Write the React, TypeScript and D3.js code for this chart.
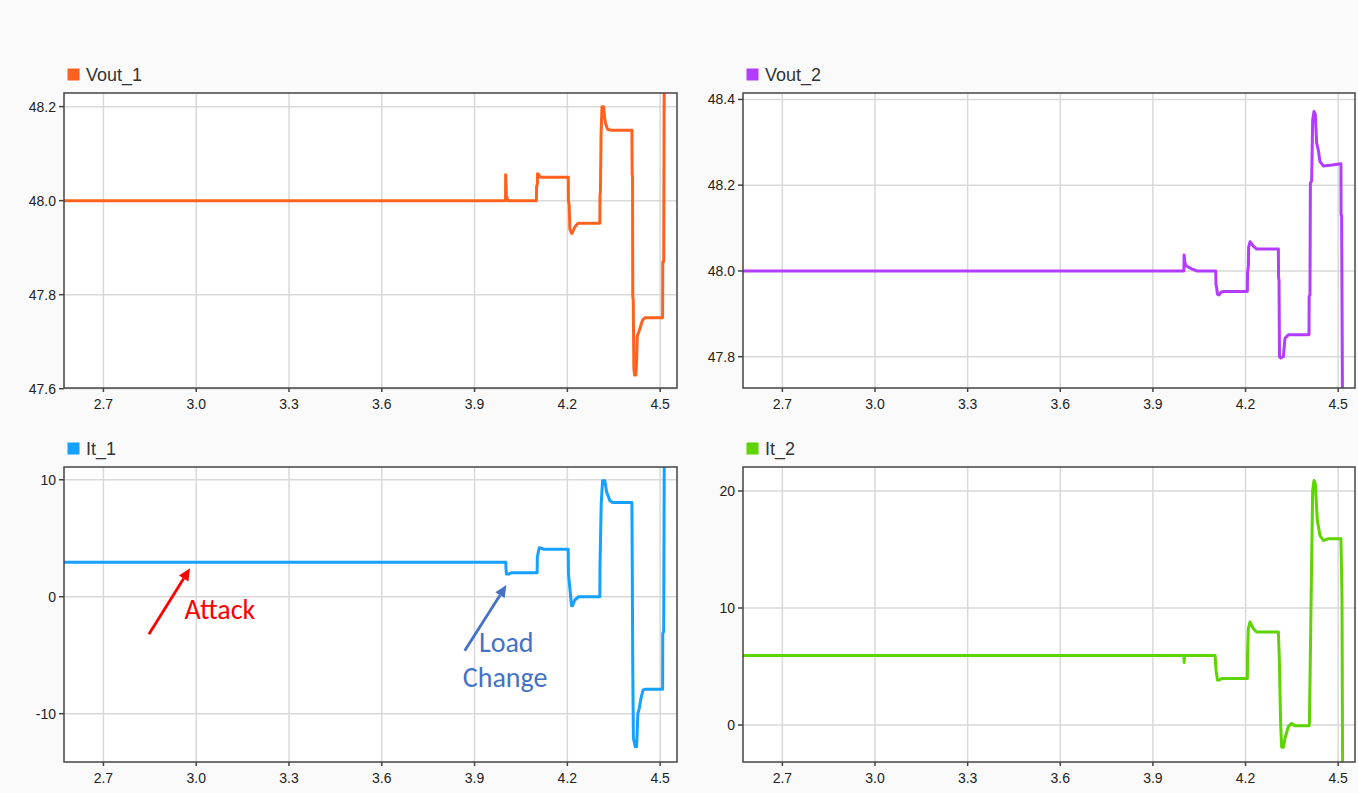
import React, { useEffect } from "react";
import * as d3 from "d3";

// ---------- data ----------
const xTicks = [2.7, 3.0, 3.3, 3.6, 3.9, 4.2, 4.5];

const vout1: [number, number][] = [
  [2.55, 48.0], [4.0, 48.0], [4.0005, 48.055], [4.003, 48.01], [4.008, 48.0],
  [4.1, 48.0], [4.1005, 48.03], [4.103, 48.035], [4.1035, 48.057], [4.108, 48.055], [4.112, 48.05],
  [4.203, 48.05], [4.2035, 48.0], [4.206, 47.99], [4.208, 47.94], [4.214, 47.93], [4.218, 47.935],
  [4.225, 47.945], [4.235, 47.952], [4.305, 47.952], [4.3055, 48.01], [4.307, 48.02], [4.309, 48.143],
  [4.312, 48.2], [4.317, 48.2], [4.32, 48.18], [4.323, 48.165], [4.33, 48.152], [4.34, 48.15],
  [4.4087, 48.15], [4.4095, 48.057], [4.4108, 48.05], [4.4115, 47.796], [4.413, 47.79], [4.415, 47.643],
  [4.4175, 47.629], [4.4215, 47.629], [4.424, 47.66], [4.426, 47.711], [4.4346, 47.728], [4.443, 47.746],
  [4.451, 47.751], [4.508, 47.751], [4.5085, 47.87], [4.5115, 47.87], [4.5133, 48.3],
];

const vout2: [number, number][] = [
  [2.55, 48.0], [4.0005, 48.0], [4.001, 48.037], [4.0035, 48.02], [4.0074, 48.012], [4.0258, 48.005],
  [4.042, 48.0], [4.1034, 48.0], [4.1045, 47.967], [4.1067, 47.96], [4.109, 47.946], [4.1142, 47.944],
  [4.12, 47.95], [4.1283, 47.952], [4.2059, 47.952], [4.2065, 47.998], [4.2092, 48.01], [4.21, 48.055],
  [4.2146, 48.068], [4.2253, 48.058], [4.2361, 48.051], [4.3063, 48.051], [4.307, 47.983], [4.3084, 47.98],
  [4.31, 47.8], [4.3138, 47.797], [4.3224, 47.8], [4.3278, 47.843], [4.3386, 47.851], [4.4055, 47.851],
  [4.406, 47.94], [4.4087, 47.945], [4.41, 48.205], [4.4141, 48.21], [4.4174, 48.352], [4.4217, 48.372],
  [4.426, 48.365], [4.4303, 48.298], [4.4357, 48.282], [4.4411, 48.255], [4.4519, 48.245], [4.48, 48.247],
  [4.509, 48.25], [4.5095, 48.131], [4.5112, 48.129], [4.5145, 47.6],
];

const it1: [number, number][] = [
  [2.55, 2.95], [4.001, 2.95], [4.0015, 2.43], [4.003, 1.94], [4.012, 1.94], [4.019, 2.05],
  [4.1023, 2.05], [4.103, 3.42], [4.109, 4.19], [4.116, 4.15], [4.124, 4.05], [4.2027, 4.05],
  [4.2035, 2.0], [4.2135, -0.77], [4.2168, -0.77], [4.224, -0.28], [4.237, 0.0], [4.305, 0.0],
  [4.3055, 2.56], [4.3095, 7.98], [4.3138, 9.91], [4.3213, 9.91], [4.3267, 8.97], [4.3375, 8.2],
  [4.346, 8.05], [4.4087, 8.05], [4.4095, 4.42], [4.4115, -6.12], [4.4135, -12.1], [4.4195, -12.82],
  [4.424, -12.82], [4.428, -9.97], [4.4325, -9.54], [4.438, -8.68], [4.445, -7.97], [4.453, -7.9],
  [4.508, -7.9], [4.5085, -3.13], [4.5115, -3.0], [4.5133, 12.0],
];

const it2: [number, number][] = [
  [2.55, 5.95], [4.0005, 5.95], [4.001, 5.34], [4.0025, 5.95], [4.1013, 5.95], [4.1045, 4.69],
  [4.109, 3.84], [4.115, 3.84], [4.123, 3.98], [4.2059, 3.98], [4.2065, 5.97], [4.209, 8.24],
  [4.2146, 8.81], [4.2253, 8.24], [4.2361, 7.95], [4.3063, 7.95], [4.3095, 5.54], [4.3138, 0.0],
  [4.3171, -1.9], [4.3224, -1.9], [4.3278, -1.13], [4.3386, -0.14], [4.3494, 0.14], [4.36, -0.06],
  [4.4066, -0.06], [4.4087, 3.56], [4.4141, 14.07], [4.4174, 20.03], [4.4217, 20.89], [4.426, 20.6],
  [4.4325, 17.48], [4.4411, 16.2], [4.4519, 15.77], [4.467, 15.91], [4.509, 15.91], [4.5123, 11.08],
  [4.5145, -5.0],
];

const vout1Ticks = [47.6, 47.8, 48.0, 48.2];
const vout2Ticks = [47.8, 48.0, 48.2, 48.4];
const it1Ticks = [-10, 0, 10];
const it2Ticks = [0, 10, 20];

// annotations in It_1 data coordinates: [tailT, tailV, tipT, tipV]
const attackArrow = [2.847, -3.21, 2.98, 2.43];
const loadArrow = [3.868, -4.62, 4.003, 1.0];
const attackLabel: [string, number, number] = ["Attack", 2.962, -1.91];
const loadLabels: [string, number, number][] = [
  ["Load", 3.914, -4.73],
  ["Change", 3.862, -7.69],
];

// ---------- layout ----------
const W = 1358;
const H = 793;
const xDomain: [number, number] = [2.5725, 4.5545];

type PanelProps = {
  id: string;
  name: string;
  color: string;
  data: [number, number][];
  yDomain: [number, number];
  yTicks: number[];
  fmt: (v: number) => string;
  left: number;
  right: number;
  top: number;
  bottom: number;
  children?: (x: d3.ScaleLinear<number, number>, y: d3.ScaleLinear<number, number>) => React.ReactNode;
};

const tickFont = "'Liberation Sans', Arial, sans-serif";

function Panel(p: PanelProps) {
  const x = d3.scaleLinear().domain(xDomain).range([p.left, p.right]);
  const y = d3.scaleLinear().domain(p.yDomain).range([p.bottom, p.top]);
  const line = d3
    .line<[number, number]>()
    .x((d) => x(d[0]))
    .y((d) => y(d[1]));
  return (
    <g>
      <rect x={p.left} y={p.top} width={p.right - p.left} height={p.bottom - p.top} fill="#ffffff" />
      {xTicks.map((t) => (
        <line key={"gx" + t} x1={x(t)} x2={x(t)} y1={p.top} y2={p.bottom} stroke="#d9d9d9" strokeWidth={1.5} />
      ))}
      {p.yTicks.map((t) => (
        <line key={"gy" + t} x1={p.left} x2={p.right} y1={y(t)} y2={y(t)} stroke="#d9d9d9" strokeWidth={1.5} />
      ))}
      <clipPath id={"clip-" + p.id}>
        <rect x={p.left} y={p.top} width={p.right - p.left} height={p.bottom - p.top} />
      </clipPath>
      <path
        d={line(p.data) || ""}
        fill="none"
        stroke={p.color}
        strokeWidth={3}
        strokeLinejoin="round"
        clipPath={`url(#clip-${p.id})`}
      />
      <rect
        x={p.left}
        y={p.top}
        width={p.right - p.left}
        height={p.bottom - p.top}
        fill="none"
        stroke="#444"
        strokeWidth={1.5}
      />
      {xTicks.map((t) => (
        <g key={"tx" + t}>
          <line x1={x(t)} x2={x(t)} y1={p.bottom} y2={p.bottom + 4} stroke="#444" strokeWidth={1.5} />
          <text
            x={x(t)}
            y={p.bottom + 21}
            textAnchor="middle"
            fontFamily={tickFont}
            fontSize={14}
            fill="#222"
          >
            {t.toFixed(1)}
          </text>
        </g>
      ))}
      {p.yTicks.map((t) => (
        <g key={"ty" + t}>
          <line x1={p.left - 5} x2={p.left} y1={y(t)} y2={y(t)} stroke="#444" strokeWidth={1.5} />
          <text
            x={p.left - 8}
            y={y(t)}
            dy="0.35em"
            textAnchor="end"
            fontFamily={tickFont}
            fontSize={14}
            fill="#222"
          >
            {p.fmt(t)}
          </text>
        </g>
      ))}
      <rect x={p.left + 3.5} y={p.top - 24.5} width={12} height={12} fill={p.color} />
      <text x={p.left + 22} y={p.top - 12} fontFamily={tickFont} fontSize={18} fill="#333">
        {p.name}
      </text>
      {p.children ? p.children(x, y) : null}
    </g>
  );
}

const annFont = "Carlito, Lato, 'Open Sans', sans-serif";

function Arrow({ a, color, x, y }: { a: number[]; color: string; x: any; y: any }) {
  const x1 = x(a[0]);
  const y1 = y(a[1]);
  const x2 = x(a[2]);
  const y2 = y(a[3]);
  const ang = Math.atan2(y2 - y1, x2 - x1);
  const len = 12;
  const half = 5.5;
  const bx = x2 - len * Math.cos(ang);
  const by = y2 - len * Math.sin(ang);
  const px = -Math.sin(ang) * half;
  const py = Math.cos(ang) * half;
  return (
    <g>
      <line x1={x1} y1={y1} x2={bx} y2={by} stroke={color} strokeWidth={2.8} />
      <polygon points={`${x2},${y2} ${bx + px},${by + py} ${bx - px},${by - py}`} fill={color} />
    </g>
  );
}

export default function App() {
  useEffect(() => {
    document.body.style.margin = "0";
    document.body.style.background = "#fafafa";
  }, []);
  const f1 = (v: number) => v.toFixed(1);
  const f0 = (v: number) => d3.format("d")(v).replace("−", "-");
  return (
    <div style={{ position: "absolute", left: 0, top: 0 }}>
      <svg width={W} height={H} style={{ display: "block", background: "#fafafa" }}>
        <Panel id="p1" name="Vout_1" color="#ff6120" data={vout1} yDomain={[47.6015, 48.229]} yTicks={vout1Ticks}
          fmt={f1} left={64} right={677} top={93} bottom={388} />
        <Panel id="p2" name="Vout_2" color="#b23cff" data={vout2} yDomain={[47.727, 48.415]} yTicks={vout2Ticks}
          fmt={f1} left={743} right={1355} top={93} bottom={388} />
        <Panel id="p3" name="It_1" color="#16a0ff" data={it1} yDomain={[-14.13, 11.09]} yTicks={it1Ticks}
          fmt={f0} left={64} right={677} top={467} bottom={762}>
          {(x, y) => (
            <g>
              <Arrow a={attackArrow} color="#ff0000" x={x} y={y} />
              <Arrow a={loadArrow} color="#4472c4" x={x} y={y} />
              <text x={x(attackLabel[1])} y={y(attackLabel[2])} fill="#ff0000" fontFamily={annFont} fontSize={28}>
                {attackLabel[0]}
              </text>
              {loadLabels.map((l) => (
                <text key={l[0]} x={x(l[1])} y={y(l[2])} fill="#4472c4" fontFamily={annFont} fontSize={28}>
                  {l[0]}
                </text>
              ))}
            </g>
          )}
        </Panel>
        <Panel id="p4" name="It_2" color="#5ed400" data={it2} yDomain={[-3.16, 22.05]} yTicks={it2Ticks}
          fmt={f0} left={743} right={1355} top={467} bottom={762} />
      </svg>
    </div>
  );
}
